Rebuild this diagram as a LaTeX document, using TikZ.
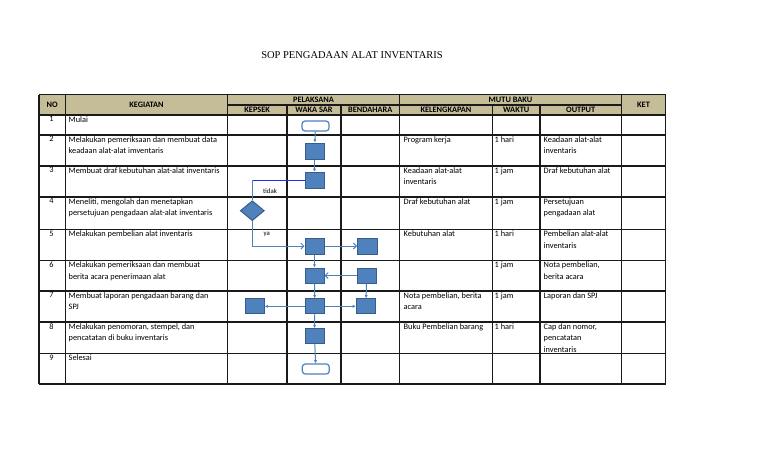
\documentclass[tikz,border=0pt]{standalone}
\usepackage{fontspec}
\setmainfont{Liberation Serif}
\newfontfamily\calib{Carlito}
\usetikzlibrary{shapes.geometric,arrows.meta}
\definecolor{hdrfill}{HTML}{C4BD97}
\definecolor{procfill}{HTML}{4F81BD}
\definecolor{procline}{HTML}{385D8A}
\definecolor{connc}{HTML}{4F81BD}
\definecolor{gridc}{HTML}{1A1A1A}
\definecolor{brightblue}{HTML}{1F2FE8}
\tikzset{
  gridline/.style={draw=gridc, line width=1.3pt},
  hdr/.style={font=\calib\bfseries\fontsize{8.3}{9}\selectfont, inner sep=0, anchor=center},
  cell/.style={font=\calib\fontsize{8.3}{11.5}\selectfont, inner sep=0, anchor=north west, align=left},
  numcell/.style={font=\calib\fontsize{8.3}{11.5}\selectfont, inner sep=0, anchor=north},
  proc/.style={rectangle, draw=procline, fill=procfill, line width=1pt, minimum width=19pt, minimum height=16pt, inner sep=0},
  term/.style={rectangle, rounded corners=3pt, draw=connc, fill=white, line width=1.2pt, minimum width=27pt, minimum height=10pt, inner sep=0},
  dec/.style={diamond, draw=procline, fill=procfill, line width=1pt, minimum width=24pt, minimum height=20pt, inner sep=0},
  conn/.style={draw=connc, line width=1pt},
  arr/.style={conn, -{Latex[length=3.2pt,width=3.2pt]}},
  openarr/.style={conn, -{Straight Barb[length=3pt,width=6pt]}},
  lbl/.style={font=\calib\fontsize{6.8}{8}\selectfont, inner sep=0, anchor=center},
}
\begin{document}
\begin{tikzpicture}[x=1pt,y=-1pt]
\useasboundingbox (0,0) rectangle (768,466);
\fill[white] (0,0) rectangle (768,466);
% title
\node[font=\fontsize{10.5}{12}\selectfont, inner sep=0] (title) at (352,55.5) {SOP PENGADAAN ALAT INVENTARIS};
% header fill
\fill[hdrfill] (39,94.5) rectangle (665.5,115);
% grid: horizontal lines
\foreach \yy in {94.5,115,135,166,197,229.5,260.5,291,322,353.5,384}
  \draw[gridline] (39,\yy) -- (665.5,\yy);
\draw[gridline] (227.5,105) -- (621.5,105);
% grid: vertical lines
\foreach \xx in {39,65.5,227.5,399.5,621.5,665.5}
  \draw[gridline] (\xx,94.5) -- (\xx,384);
\foreach \xx in {287,341,492.5,540}
  \draw[gridline] (\xx,105) -- (\xx,384);
% header texts
\node[hdr] (hno) at (52.2,104.7) {NO};
\node[hdr] (hkeg) at (146.5,104.7) {KEGIATAN};
\node[hdr] (hpel) at (313.5,99.8) {PELAKSANA};
\node[hdr] (hkep) at (257.2,110) {KEPSEK};
\node[hdr] (hwak) at (314,110) {WAKA SAR};
\node[hdr] (hben) at (370.2,110) {BENDAHARA};
\node[hdr] (hmut) at (510.5,99.8) {MUTU BAKU};
\node[hdr] (hkel) at (446,110) {KELENGKAPAN};
\node[hdr] (hwkt) at (516.2,110) {WAKTU};
\node[hdr] (hout) at (580.7,110) {OUTPUT};
\node[hdr] (hket) at (643.5,104.7) {KET};
% NO column
\node[numcell] (n1) at (51.5,116.3) {1};
\node[numcell] (n2) at (51.5,136.3) {2};
\node[numcell] (n3) at (51.5,167.3) {3};
\node[numcell] (n4) at (51.5,198.3) {4};
\node[numcell] (n5) at (51.5,230.8) {5};
\node[numcell] (n6) at (51.5,261.8) {6};
\node[numcell] (n7) at (51.5,292.3) {7};
\node[numcell] (n8) at (51.5,323.3) {8};
\node[numcell] (n9) at (51.5,354.8) {9};
% KEGIATAN
\node[cell] (k1) at (68.5,116.3) {Mulai};
\node[cell] (k2) at (68.5,136.3) {Melakukan pemeriksaan dan membuat data\\keadaan alat-alat imventaris};
\node[cell] (k3) at (68.5,167.3) {Membuat draf kebutuhan alat-alat inventaris};
\node[cell] (k4) at (68.5,198.3) {Meneliti, mengolah dan menetapkan\\persetujuan pengadaan alat-alat inventaris};
\node[cell] (k5) at (68.5,230.8) {Melakukan pembelian alat inventaris};
\node[cell] (k6) at (68.5,261.8) {Melakukan pemeriksaan dan membuat\\berita acara penerimaan alat};
\node[cell] (k7) at (68.5,292.3) {Membuat laporan pengadaan barang dan\\SPJ};
\node[cell] (k8) at (68.5,323.3) {Melakukan penomoran, stempel, dan\\pencatatan di buku inventaris};
\node[cell] (k9) at (68.5,354.8) {Selesai};
% KELENGKAPAN
\node[cell] (l2) at (403.5,136.3) {Program kerja};
\node[cell] (l3) at (403.5,167.3) {Keadaan alat-alat\\inventaris};
\node[cell] (l4) at (403.5,198.3) {Draf kebutuhan alat};
\node[cell] (l5) at (403.5,230.8) {Kebutuhan alat};
\node[cell] (l7) at (403.5,292.3) {Nota pembelian, berita\\acara};
\node[cell] (l8) at (403.5,323.3) {Buku Pembelian barang};
% WAKTU
\node[cell] (w2) at (494.5,136.3) {1 hari};
\node[cell] (w3) at (494.5,167.3) {1 jam};
\node[cell] (w4) at (494.5,198.3) {1 jam};
\node[cell] (w5) at (494.5,230.8) {1 hari};
\node[cell] (w6) at (494.5,261.8) {1 jam};
\node[cell] (w7) at (494.5,292.3) {1 jam};
\node[cell] (w8) at (494.5,323.3) {1 hari};
% OUTPUT
\node[cell] (o2) at (543.5,136.3) {Keadaan alat-alat\\inventaris};
\node[cell] (o3) at (543.5,167.3) {Draf kebutuhan alat};
\node[cell] (o4) at (543.5,198.3) {Persetujuan\\pengadaan alat};
\node[cell] (o5) at (543.5,230.8) {Pembelian alat-alat\\inventaris};
\node[cell] (o6) at (543.5,261.8) {Nota pembelian,\\berita acara};
\node[cell] (o7) at (543.5,292.3) {Laporan dan SPJ};
\node[cell] (o8) at (543.5,323.3) {Cap dan nomor,\\pencatatan\\inventaris};
% flowchart shapes
\node[term] (start) at (315.5,126) {};
\node[proc] (b2) at (314.5,151) {};
\node[proc] (b3) at (314.5,180.3) {};
\node[dec] (d4) at (252.3,210.7) {};
\node[proc] (b5) at (314.5,246) {};
\node[proc, minimum width=20pt] (b5b) at (367.5,246) {};
\node[proc, minimum height=15pt] (b6) at (314.5,275.5) {};
\node[proc, minimum height=15pt] (b6b) at (366.7,275.5) {};
\node[proc, minimum height=15pt] (b7) at (314.8,306.3) {};
\node[proc, minimum height=15pt] (b7a) at (254.7,306.3) {};
\node[proc, minimum height=15pt] (b7b) at (365.9,306.3) {};
\node[proc, minimum height=15pt] (b8) at (314.5,336.2) {};
\node[term] (stop) at (315.8,369) {};
% labels
\node[lbl] (tidak) at (270,191.3) {tidak};
\node[lbl] (ya) at (266.7,234.5) {ya};
% connectors
\coordinate (c1) at (d4.north |- b3.west);
\coordinate (c2) at (d4.south |- b5.west);
\draw[arr] (start) -- (b2);
\draw[arr] (b2) -- (b3);
\draw[draw=brightblue, line width=1.3pt] (b3.west) -- (c1);
\draw[conn] (c1) -- (d4.north);
\draw[openarr] (d4.south) -- (c2) -- (b5.west);
\draw[openarr] (b5.east) -- (b5b.west);
\draw[openarr] (b6b.west) -- (b6.east);
\draw[arr] (b5) -- (b6);
\draw[arr] (b6) -- (b7);
\draw[arr] (b6b) -- (b7b);
\draw[arr] (b7.west) -- (b7a.east);
\draw[arr] (b7.east) -- (b7b.west);
\draw[arr] (b7) -- (b8);
\draw[arr] (b8) -- (stop);
\end{tikzpicture}
\end{document}
